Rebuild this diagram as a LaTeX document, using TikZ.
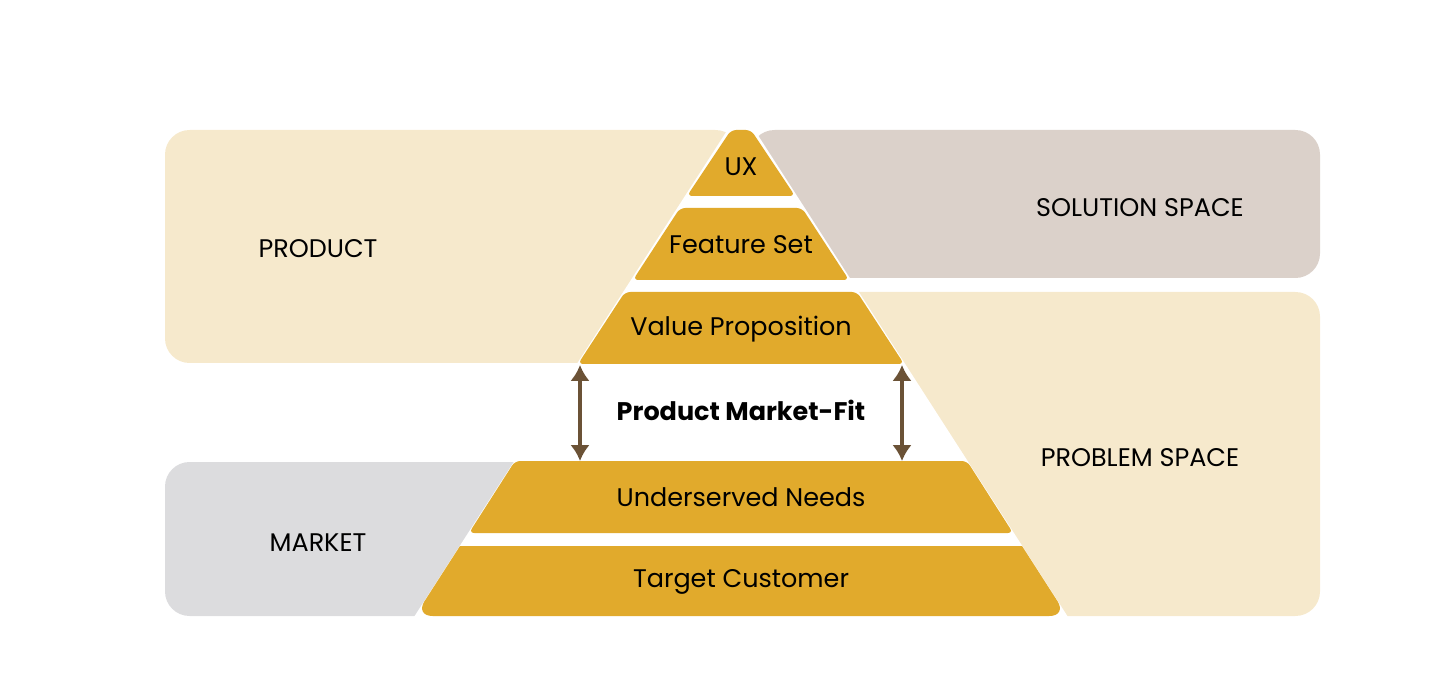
\documentclass[tikz,border=0pt]{standalone}
\usepackage{fontspec}
\setmainfont{Poppins}
\usetikzlibrary{arrows.meta}
\begin{document}
\begin{tikzpicture}[x=0.02cm,y=-0.02cm,
  box/.style={rounded corners=14pt},
  band/.style={fill=gold,rounded corners=3pt},
  lab/.style={font=\fontsize{14.5}{16}\selectfont,text=black},
  arr/.style={draw=brn,line width=2.8pt,{Latex[length=9pt,width=11pt]}-{Latex[length=9pt,width=11pt]}}]
\definecolor{gold}{HTML}{E1AA2C}
\definecolor{cream}{HTML}{F6E9CC}
\definecolor{taupe}{HTML}{DBD1CA}
\definecolor{greyb}{HTML}{DCDCDE}
\definecolor{brn}{HTML}{6B5236}
\useasboundingbox (0,0) rectangle (1456,695);
\fill[cream,box] (165,130) rectangle (740,363);
\fill[taupe,box] (750,130) rectangle (1320,278);
\fill[cream,box] (740,292) rectangle (1320,616);
\fill[greyb,box] (165,462) rectangle (740,616);
\fill[white] (730,126) -- (752,126) -- (1068,617) -- (414,617) -- cycle;
\fill[band] (731,130) -- (751,130) -- (795,196) -- (687,196) -- cycle;
\fill[band] (680,208) -- (802,208) -- (849,280) -- (633,280) -- cycle;
\fill[band] (625,292) -- (857,292) -- (904,364) -- (578,364) -- cycle;
\fill[band] (515,461) -- (967,461) -- (1013,533) -- (469,533) -- cycle;
\fill[gold] (460,546) -- (1022,546) [rounded corners=10pt] -- (1067,616) -- (415,616) [sharp corners] -- cycle;
\node[lab] (ux) at (741,167) {UX};
\node[lab] (fs) at (741,245) {Feature Set};
\node[lab] (vp) at (741,329) {Value Proposition};
\node[lab,font=\fontsize{14.5}{16}\selectfont\bfseries] (pmf) at (741,410) {Product Market-Fit};
\node[lab] (un) at (741,497) {Underserved Needs};
\node[lab] (tc) at (741,582) {Target Customer};
\node[lab] (prod) at (318,249) {PRODUCT};
\node[lab] (mkt) at (318,543) {MARKET};
\node[lab] (sol) at (1140,208) {SOLUTION SPACE};
\node[lab] (prob) at (1140,458) {PROBLEM SPACE};
\coordinate (a1) at (580,365); \coordinate (a2) at (580,461);
\coordinate (b1) at (902,365); \coordinate (b2) at (902,461);
\draw[arr] (a1) -- (a2);
\draw[arr] (b1) -- (b2);
\end{tikzpicture}
\end{document}
